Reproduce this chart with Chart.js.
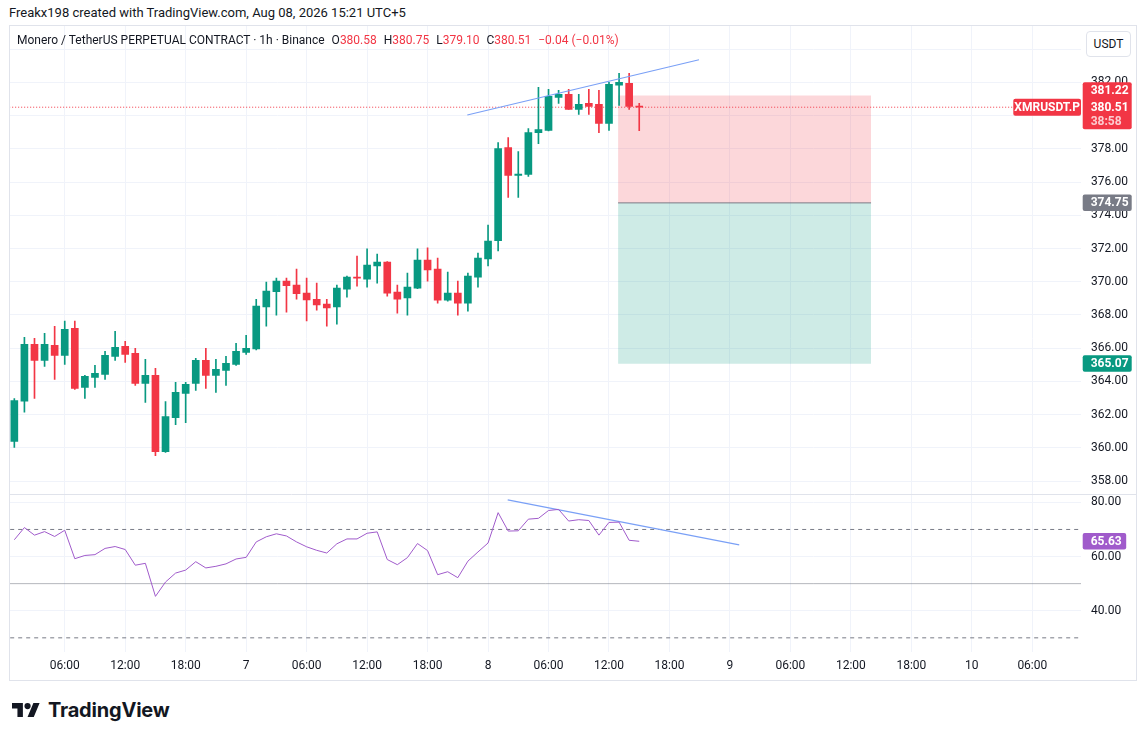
<!DOCTYPE html>
<html>
<head>
<meta charset="utf-8">
<title>XMRUSDT.P 1h</title>
<script src="https://cdn.jsdelivr.net/npm/chart.js@4.4.1/dist/chart.umd.min.js"></script>
<style>
  body { margin: 0; background: #fff; font-family: Roboto, "Liberation Sans", sans-serif; color: #131722; }
  #page { position: relative; width: 1146px; height: 740px; overflow: hidden; }
  #credit { position: absolute; left: 9px; top: 5px; font-size: 13px; white-space: nowrap; }
  #frame { position: absolute; left: 9px; top: 25px; width: 1126px; height: 654px; border: 1px solid #e0e3eb; pointer-events: none; }
  #box { position: absolute; left: 10px; top: 25px; width: 1126px; height: 655px; }
  #legend { position: absolute; left: 17px; top: 33px; font-size: 12px; white-space: nowrap; }
  #legend .v { color: #f23645; }
  #legend .g { margin-left: 4px; }
  #usdt { position: absolute; left: 1086px; top: 31px; width: 43px; height: 24px; border: 1px solid #e0e3eb;
          border-radius: 4px; font-size: 12px; line-height: 24px; text-align: center; background: #fff; }
  #brand { position: absolute; left: 12px; top: 698px; height: 24px; display: flex; align-items: center; }
  #brand span { font-family: Inter, Roboto, sans-serif; font-weight: 700; font-size: 20px; color: #131722; margin-left: 8px; letter-spacing: -0.2px; }
</style>
</head>
<body>
<div id="page">
  <div id="credit">Freakx198 created with TradingView.com, Aug 08, 2026 15:21 UTC+5</div>
  <div id="box"><canvas id="chart"></canvas></div>
  <div id="frame"></div>
  <div id="legend">Monero / TetherUS PERPETUAL CONTRACT · 1h · Binance
    <span class="g">O<span class="v">380.58</span></span>
    <span class="g">H<span class="v">380.75</span></span>
    <span class="g">L<span class="v">379.10</span></span>
    <span class="g">C<span class="v">380.51</span></span>
    <span class="g v">−0.04 (−0.01%)</span></div>
  <div id="usdt">USDT</div>
  <div id="brand">
    <svg width="28" height="14" viewBox="0 4 36 18"><path fill="#131722" d="M14 22H7V11H0V4h14v18zM28 22h-8l7.5-18h8L28 22z"/><circle fill="#131722" cx="20" cy="8" r="4"/></svg>
    <span>TradingView</span>
  </div>
</div>
<script>
// hourly candles, index 0 = Aug 6 01:00
var opens  = [360.39, 362.81, 366.24, 365.27, 366.18, 365.57, 367.20, 363.64, 364.24, 364.42,
              365.51, 366.11, 365.69, 363.88, 364.36, 359.77, 361.82, 363.27, 363.88, 365.27,
              364.36, 364.66, 365.03, 365.75, 365.95, 368.49, 369.40, 370.04, 369.80, 369.32,
              368.95, 368.65, 368.49, 369.56, 370.28, 370.16, 370.95, 371.19, 369.38, 369.02,
              369.62, 371.31, 370.77, 368.89, 369.32, 368.71, 370.28, 371.37, 372.48, 378.08,
              376.41, 376.47, 378.98, 379.12, 381.10, 381.28, 380.37, 380.74, 380.68, 379.53,
              381.83, 381.95, 380.58];
var highs  = [362.97, 366.66, 366.60, 366.90, 367.32, 367.63, 367.63, 364.36, 364.97, 365.81,
              367.02, 366.42, 365.99, 365.33, 364.79, 362.79, 363.94, 363.94, 365.39, 365.99,
              365.33, 365.51, 366.30, 366.78, 368.95, 369.98, 370.22, 370.22, 370.77, 370.22,
              369.92, 368.95, 369.80, 370.34, 371.55, 371.98, 371.67, 371.22, 369.80, 370.53,
              371.98, 372.04, 371.43, 370.59, 370.04, 370.53, 371.73, 373.42, 378.38, 378.68,
              377.84, 379.23, 381.70, 381.58, 381.52, 381.58, 381.28, 381.58, 381.52, 382.01,
              382.55, 382.55, 380.75];
var lows   = [360.03, 362.15, 362.97, 364.91, 364.12, 365.03, 363.52, 362.97, 363.64, 364.12,
              365.27, 365.15, 363.76, 362.73, 359.53, 359.72, 361.40, 361.52, 363.46, 363.58,
              363.34, 363.76, 364.97, 365.63, 365.90, 367.32, 367.99, 368.17, 368.95, 367.65,
              368.29, 367.32, 367.44, 369.08, 369.74, 369.68, 369.92, 369.14, 368.11, 367.99,
              369.58, 370.04, 368.71, 368.83, 367.99, 368.23, 369.68, 370.95, 371.85, 375.08,
              375.08, 376.35, 378.32, 379.08, 380.74, 380.37, 380.07, 380.07, 378.98, 379.11,
              380.62, 380.37, 379.10];
var closes = [362.85, 366.24, 365.27, 366.24, 365.57, 367.14, 363.58, 364.30, 364.48, 365.57,
              366.05, 365.63, 363.88, 364.36, 359.77, 361.89, 363.34, 363.82, 365.27, 364.36,
              364.73, 365.09, 365.81, 365.99, 368.53, 369.44, 370.04, 369.76, 369.28, 368.91,
              368.61, 368.43, 369.62, 370.28, 370.22, 371.01, 371.19, 369.32, 368.95, 369.68,
              371.31, 370.71, 368.89, 369.32, 368.71, 370.34, 371.43, 372.45, 378.02, 376.41,
              376.49, 378.98, 379.17, 381.16, 381.28, 380.37, 380.68, 380.56, 379.53, 381.89,
              382.01, 380.56, 380.51];
// RSI(14)
var rsi = [66.2, 70.7, 67.9, 69.2, 67.4, 69.7, 59.2, 60.4, 60.7, 63.0,
           63.7, 62.6, 56.8, 57.5, 45.3, 50.6, 53.9, 55.0, 58.1, 55.8,
           56.4, 57.3, 59.1, 59.7, 65.4, 67.3, 68.4, 67.6, 65.4, 63.6,
           62.3, 61.3, 64.7, 66.5, 66.5, 68.6, 69.1, 58.9, 57.0, 59.6,
           64.8, 62.2, 53.3, 54.4, 52.2, 58.3, 61.7, 65.0, 76.2, 69.4,
           69.5, 73.8, 74.1, 77.0, 77.4, 73.1, 73.6, 73.3, 67.9, 72.6,
           72.7, 66.0, 65.63];

var tickHours  = [5, 11, 17, 23, 29, 35, 41, 47, 53, 59, 65, 71, 77, 83, 89, 95, 101];
var tickLabels = ['06:00', '12:00', '18:00', '7', '06:00', '12:00', '18:00', '8', '06:00',
                  '12:00', '18:00', '9', '06:00', '12:00', '18:00', '10', '06:00'];
var priceTicks = [358, 360, 362, 364, 366, 368, 370, 372, 374, 376, 378, 380, 382, 384];
var rsiTicks = [40, 60, 80];
var rsiLevels = [70, 50, 30];

// short position drawing
var posStart = 59.9, posEnd = 85;
var entryPrice = 374.75, stopPrice = 381.22, targetPrice = 365.07;
// trend lines [hour, value]
var priceTrend = [[44.94, 380.04], [67.93, 383.37]];
var rsiTrend = [[48.95, 80.9], [71.92, 64.3]];

var countdown = '38:58';
var symbol = 'XMRUSDT.P';

var UP = '#089981', DOWN = '#f23645', RSI_COLOR = '#a05bcb';
var hours = opens.map(function (d, i) { return i; });
var colors = hours.map(function (i) { return closes[i] >= opens[i] ? UP : DOWN; });
var lastClose = closes[closes.length - 1];
var lastRsi = rsi[rsi.length - 1];

Chart.defaults.font.family = 'Roboto, "Liberation Sans", sans-serif';
Chart.defaults.font.size = 12;
Chart.defaults.color = '#131722';

function flat(v, a, b) { return [{x: a, y: v}, {x: b, y: v}]; }
function pts(arr) { return arr.map(function (p) { return {x: p[0], y: p[1]}; }); }
function noPad(s) { s.width = 55; s.paddingTop = 0; s.paddingBottom = 0; }

var tagPlugin = {
  id: 'tags',
  afterDraw: function (chart) {
    var ctx = chart.ctx, a = chart.chartArea, py = chart.scales.y, ry = chart.scales.yRsi;
    var left = a.right + 1.7, w = 49, tx = left + 8;
    ctx.save();
    // pane separator
    ctx.strokeStyle = '#e0e3eb';
    ctx.lineWidth = 1;
    var s = Math.round(py.bottom) + 0.5;
    ctx.beginPath(); ctx.moveTo(0, s); ctx.lineTo(chart.width, s); ctx.stroke();

    ctx.font = 'bold 12px Roboto, sans-serif';
    ctx.textBaseline = 'middle';
    function box(x, y, bw, bh, bg) {
      ctx.fillStyle = bg;
      ctx.beginPath();
      ctx.roundRect(x, y, bw, bh, 2);
      ctx.fill();
    }
    // last price + stop label + countdown
    var yl = py.getPixelForValue(lastClose);
    box(left, yl - 25, w, 47, DOWN);
    ctx.fillStyle = '#fff';
    ctx.textAlign = 'left';
    ctx.fillText(stopPrice.toFixed(2), tx, yl - 16.5);
    ctx.fillText(lastClose.toFixed(2), tx, yl + 0.5);
    ctx.fillStyle = 'rgba(255,255,255,0.75)';
    ctx.fillText(countdown, tx, yl + 15);
    // symbol label
    box(a.right - 67.7, yl - 8.5, 67.7, 17, DOWN);
    ctx.fillStyle = '#fff';
    ctx.textAlign = 'center';
    ctx.fillText(symbol, a.right - 33.8, yl + 0.5);
    ctx.textAlign = 'left';
    // entry / target
    var ye = py.getPixelForValue(entryPrice);
    box(left, ye - 8.3, w, 16.5, '#787b86');
    ctx.fillStyle = '#fff';
    ctx.fillText(entryPrice.toFixed(2), tx, ye + 0.5);
    var yt = py.getPixelForValue(targetPrice);
    box(left, yt - 8.3, w, 16.5, UP);
    ctx.fillStyle = '#fff';
    ctx.fillText(targetPrice.toFixed(2), tx, yt + 0.5);
    // rsi value
    var yr = ry.getPixelForValue(lastRsi);
    box(left, yr - 8.3, 43.5, 16.5, RSI_COLOR);
    ctx.fillStyle = '#fff';
    ctx.fillText(lastRsi.toFixed(2), tx, yr + 0.5);
    ctx.restore();
  }
};

var chart = new Chart('chart', {
  type: 'line',
  data: {
    datasets: [
      { label: 'stop zone', data: flat(stopPrice, posStart, posEnd), fill: {value: entryPrice},
        backgroundColor: 'rgba(242,54,69,0.2)', borderWidth: 0, pointRadius: 0, order: 10 },
      { label: 'target zone', data: flat(targetPrice, posStart, posEnd), fill: {value: entryPrice},
        backgroundColor: 'rgba(8,153,129,0.2)', borderWidth: 0, pointRadius: 0, order: 10 },
      { label: 'entry', data: flat(entryPrice, posStart, posEnd), borderColor: '#787b86',
        borderWidth: 1, pointRadius: 0, order: 9 },
      { label: 'last', data: flat(lastClose, -2, 110), borderColor: DOWN, borderDash: [1, 2],
        borderWidth: 1, pointRadius: 0, order: 8 },
      { type: 'bar', label: 'wicks', data: hours.map(function (i) { return {x: i, y: [lows[i], highs[i]]}; }),
        backgroundColor: colors, barThickness: 1, grouped: false, order: 3 },
      { type: 'bar', label: 'bodies', data: hours.map(function (i) { return {x: i, y: [opens[i], closes[i]]}; }),
        backgroundColor: colors, barThickness: 7, minBarLength: 1, grouped: false, order: 2 },
      { label: 'trend', data: pts(priceTrend), borderColor: '#7aa0f6', borderWidth: 1.2, pointRadius: 0, order: 1 },
      { label: '70', data: flat(rsiLevels[0], -2, 110), yAxisID: 'yRsi', borderColor: '#787b86',
        borderDash: [4, 4], borderWidth: 1, pointRadius: 0, order: 6 },
      { label: '50', data: flat(rsiLevels[1], -2, 110), yAxisID: 'yRsi', borderColor: 'rgba(120,123,134,0.55)',
        borderWidth: 1, pointRadius: 0, order: 6 },
      { label: '30', data: flat(rsiLevels[2], -2, 110), yAxisID: 'yRsi', borderColor: '#787b86',
        borderDash: [4, 4], borderWidth: 1, pointRadius: 0, order: 6 },
      { label: 'RSI', data: hours.map(function (i) { return {x: i, y: rsi[i]}; }), yAxisID: 'yRsi',
        borderColor: RSI_COLOR, borderWidth: 1, pointRadius: 0, order: 1 },
      { label: 'rsi trend', data: pts(rsiTrend), yAxisID: 'yRsi', borderColor: '#7aa0f6',
        borderWidth: 1.2, pointRadius: 0, order: 1 }
    ]
  },
  options: {
    responsive: true,
    maintainAspectRatio: false,
    animation: false,
    layout: { padding: 0 },
    plugins: { legend: { display: false }, tooltip: { enabled: false } },
    scales: {
      x: {
        type: 'linear', min: -0.43, max: 105.83, offset: false,
        afterBuildTicks: function (s) { s.ticks = tickHours.map(function (v) { return {value: v}; }); },
        afterFit: function (s) { s.height = 28; s.paddingLeft = 0; s.paddingRight = 0; },
        ticks: { autoSkip: false, maxRotation: 0, padding: 7,
                 callback: function (v) { return tickLabels[tickHours.indexOf(v)]; } },
        grid: { color: '#f0f3fa', drawTicks: false, offset: false },
        border: { display: false }
      },
      y: {
        type: 'linear', position: 'right', stack: 'panes', stackWeight: 468.3,
        min: 357.25, max: 385.46, beginAtZero: false,
        afterBuildTicks: function (s) { s.ticks = priceTicks.map(function (v) { return {value: v}; }); },
        afterFit: noPad,
        ticks: { padding: 10, callback: function (v) { return v >= 384 ? '' : v.toFixed(2); } },
        grid: { color: '#f0f3fa', drawTicks: false },
        border: { display: false }
      },
      yRsi: {
        type: 'linear', position: 'right', stack: 'panes', stackWeight: 158.4,
        min: 24.77, max: 83.26, beginAtZero: false,
        afterBuildTicks: function (s) { s.ticks = rsiTicks.map(function (v) { return {value: v}; }); },
        afterFit: noPad,
        ticks: { padding: 10, callback: function (v) { return v.toFixed(2); } },
        grid: { color: '#f0f3fa', drawTicks: false },
        border: { display: false }
      }
    }
  },
  plugins: [tagPlugin]
});
</script>
</body>
</html>
